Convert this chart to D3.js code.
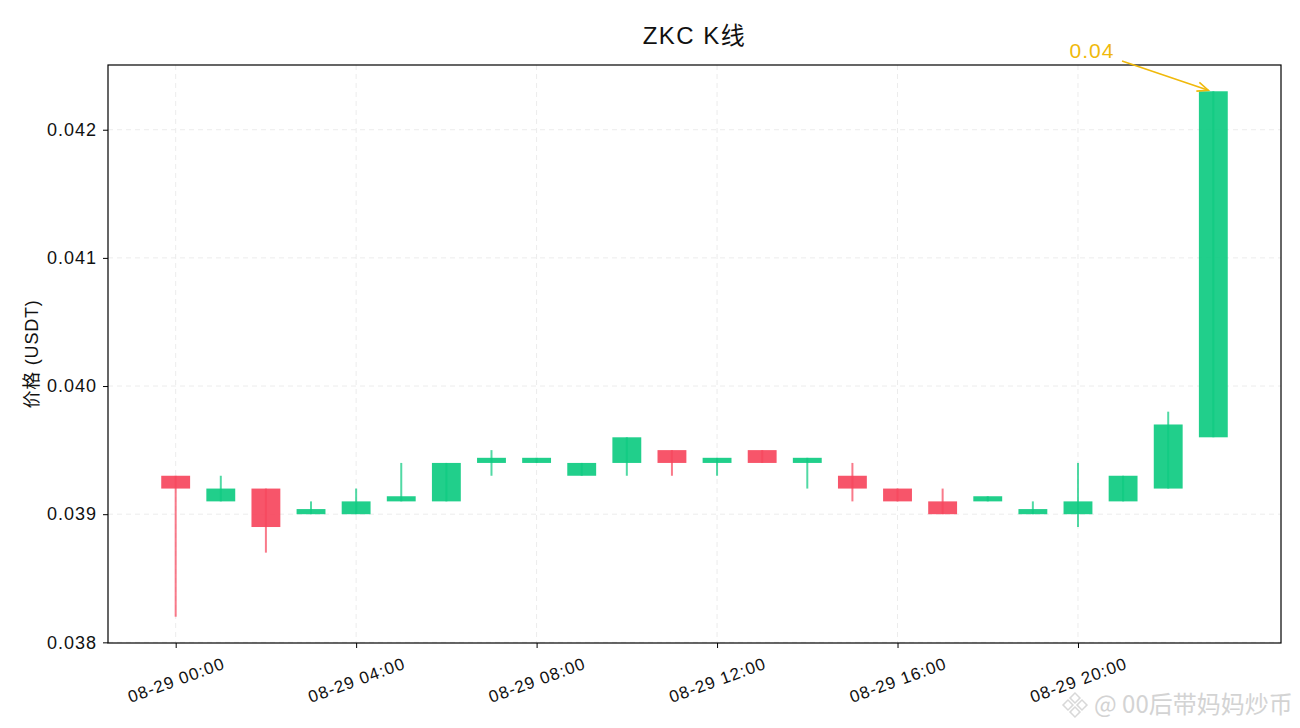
<!DOCTYPE html>
<html>
<head>
<meta charset="utf-8">
<script src="https://cdn.jsdelivr.net/npm/d3@7.9.0/dist/d3.min.js"></script>
<style>
  body { margin: 0; background: #fff; }
  svg text { font-family: "Liberation Sans", Arial, "Noto Sans CJK SC", sans-serif; }
</style>
</head>
<body>
<svg id="chart" width="1300" height="728"></svg>
<script>
// hourly candles, 08-29 00:00 .. 23:00
const hours = d3.range(0, 24);
const open  = [0.0393, 0.0391, 0.0392, 0.0390, 0.0390, 0.0391, 0.0391, 0.0394, 0.0394, 0.0393, 0.0394, 0.0395,
               0.0394, 0.0395, 0.0394, 0.0393, 0.0392, 0.0391, 0.0391, 0.0390, 0.0390, 0.0391, 0.0392, 0.0396];
const close = [0.0392, 0.0392, 0.0389, 0.03904, 0.0391, 0.03914, 0.0394, 0.03944, 0.03944, 0.0394, 0.0396, 0.0394,
               0.03944, 0.0394, 0.03944, 0.0392, 0.0391, 0.0390, 0.03914, 0.03904, 0.0391, 0.0393, 0.0397, 0.0423];
const high  = [0.0393, 0.0393, 0.0392, 0.0391, 0.0392, 0.0394, 0.0394, 0.0395, 0.03944, 0.0394, 0.0396, 0.0395,
               0.03944, 0.0395, 0.03944, 0.0394, 0.0392, 0.0392, 0.03914, 0.0391, 0.0394, 0.0393, 0.0398, 0.0423];
const low   = [0.0382, 0.0391, 0.0387, 0.0390, 0.0390, 0.0391, 0.0391, 0.0393, 0.0394, 0.0393, 0.0393, 0.0393,
               0.0393, 0.0394, 0.0392, 0.0391, 0.0391, 0.0390, 0.0391, 0.0390, 0.0389, 0.0391, 0.0392, 0.0396];
const yTicks = [0.038, 0.039, 0.040, 0.041, 0.042];
const xTickHours = [0, 4, 8, 12, 16, 20];
const title = 'ZKC K线';
const yLabel = '价格 (USDT)';
const noteText = '0.04';
const watermark = '@ 00后带妈妈炒币';

const t0 = new Date(2025, 7, 29, 0, 0);
const hourAt = (h) => new Date(+t0 + h * 3600e3);

const margin = { left: 108, right: 1281, top: 65, bottom: 643 };
const svg = d3.select('#chart');

const x = d3.scaleTime()
    .domain([hourAt(-1.5), hourAt(24.5)])
    .range([margin.left, margin.right]);
const yMin = d3.min(low), yMax = d3.max(high), pad = (yMax - yMin) * 0.05;
const y = d3.scaleLinear()
    .domain([yMin - pad, yMax + pad])
    .range([margin.bottom, margin.top]);

const green = '#0ecb81', red = '#f6465d';
const fmtTick = d3.timeFormat('%m-%d %H:%M');

// grid
const grid = svg.append('g');
grid.selectAll('line.gx').data(xTickHours).join('line')
    .attr('x1', d => x(hourAt(d))).attr('x2', d => x(hourAt(d)))
    .attr('y1', margin.top).attr('y2', margin.bottom)
    .attr('stroke', '#ececec').attr('stroke-dasharray', '5,4');
grid.selectAll('line.gy').data(yTicks).join('line')
    .attr('x1', margin.left).attr('x2', margin.right)
    .attr('y1', d => y(d)).attr('y2', d => y(d))
    .attr('stroke', '#ececec').attr('stroke-dasharray', '5,4');

// candles: body first, wick on top (as in the source)
const bodyW = x(hourAt(0.64)) - x(hourAt(0));
const candles = svg.append('g').selectAll('g').data(hours).join('g');
candles.append('rect')
    .attr('x', i => x(hourAt(i)) - bodyW / 2)
    .attr('width', bodyW)
    .attr('y', i => y(Math.max(open[i], close[i])))
    .attr('height', i => Math.abs(y(open[i]) - y(close[i])))
    .attr('fill', i => close[i] >= open[i] ? green : red)
    .attr('fill-opacity', 0.92);
candles.append('line')
    .attr('x1', i => x(hourAt(i))).attr('x2', i => x(hourAt(i)))
    .attr('y1', i => y(high[i])).attr('y2', i => y(low[i]))
    .attr('stroke', i => close[i] >= open[i] ? green : red)
    .attr('stroke-opacity', 0.72)
    .attr('stroke-width', 2);

// frame
svg.append('rect')
    .attr('x', margin.left).attr('y', margin.top)
    .attr('width', margin.right - margin.left).attr('height', margin.bottom - margin.top)
    .attr('fill', 'none').attr('stroke', '#000').attr('stroke-width', 1.2);

// y axis
const yAxis = svg.append('g')
    .attr('transform', `translate(${margin.left},0)`)
    .call(d3.axisLeft(y).tickValues(yTicks).tickFormat(d3.format('.3f')).tickSize(5).tickPadding(6));
yAxis.select('.domain').remove();
yAxis.selectAll('text').attr('font-size', 18).attr('letter-spacing', 1).attr('fill', '#111');

// x axis
const xAxis = svg.append('g')
    .attr('transform', `translate(0,${margin.bottom})`)
    .call(d3.axisBottom(x).tickValues(xTickHours.map(hourAt)).tickFormat(fmtTick).tickSize(5));
xAxis.select('.domain').remove();
xAxis.selectAll('text')
    .attr('font-size', 17).attr('letter-spacing', 1).attr('fill', '#111')
    .attr('text-anchor', 'middle')
    .attr('y', 0).attr('dy', '0.35em')
    .attr('transform', 'translate(0,37) rotate(-20)');

// title & labels
svg.append('text')
    .attr('x', (margin.left + margin.right) / 2).attr('y', 44)
    .attr('text-anchor', 'middle').attr('font-size', 24).attr('letter-spacing', 1.5).attr('fill', '#111')
    .text(title);
svg.append('text')
    .attr('transform', `translate(38,${(margin.top + margin.bottom) / 2}) rotate(-90)`)
    .attr('text-anchor', 'middle').attr('font-size', 18).attr('letter-spacing', 0.8).attr('fill', '#111')
    .text(yLabel);

// annotation on the last candle
const last = hours.length - 1;
const ax = x(hourAt(last)) - 5, ay = y(high[last]) - 1;
const tx = 1092, ty = 58;
svg.append('text')
    .attr('x', tx).attr('y', ty).attr('text-anchor', 'middle')
    .attr('font-size', 21).attr('letter-spacing', 1).attr('fill', '#f0b90b')
    .text(noteText);
const ang = Math.atan2(ay - (ty + 3), ax - (tx + 30));
svg.append('line')
    .attr('x1', tx + 30).attr('y1', ty + 3).attr('x2', ax).attr('y2', ay)
    .attr('stroke', '#f0b90b').attr('stroke-width', 1.6);
const ah = 12;
svg.append('path')
    .attr('d', `M${ax - ah * Math.cos(ang - 0.4)},${ay - ah * Math.sin(ang - 0.4)} L${ax},${ay} L${ax - ah * Math.cos(ang + 0.4)},${ay - ah * Math.sin(ang + 0.4)}`)
    .attr('fill', 'none').attr('stroke', '#f0b90b').attr('stroke-width', 1.6);

// watermark
const wm = svg.append('g').attr('opacity', 0.9);
const lx = 1075, ly = 705;
[[0, -7], [-7, 0], [7, 0], [0, 7]].forEach(([dx, dy]) => {
  wm.append('rect')
    .attr('x', lx + dx - 3.5).attr('y', ly + dy - 3.5).attr('width', 7).attr('height', 7)
    .attr('transform', `rotate(45,${lx + dx},${ly + dy})`)
    .attr('fill', 'none').attr('stroke', '#d4d4d4').attr('stroke-width', 1.5);
});
wm.append('text')
    .attr('x', 1094).attr('y', 713)
    .attr('font-size', 24).attr('fill', '#cfcfcf')
    .style('font-family', '"Noto Sans CJK SC", sans-serif')
    .text(watermark);
</script>
</body>
</html>
